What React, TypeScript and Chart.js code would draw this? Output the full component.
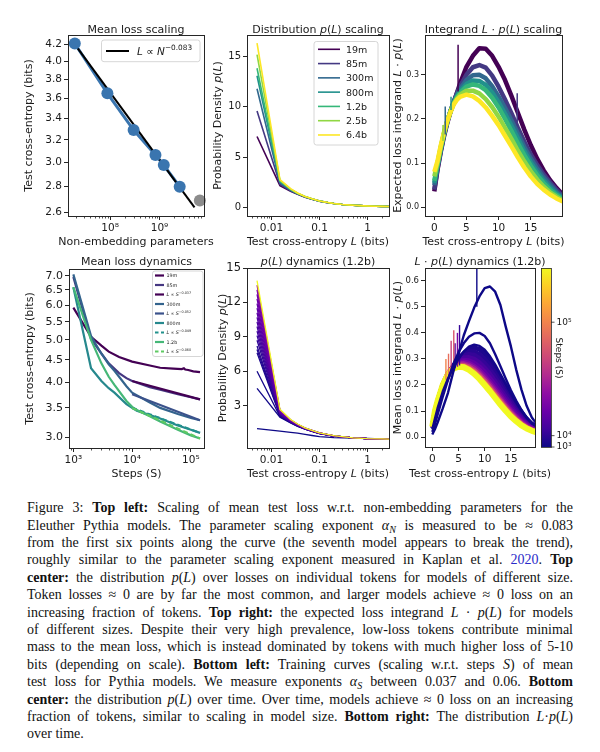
import React, { useEffect, useLayoutEffect, useRef } from 'react';
import { Chart, registerables } from 'chart.js';

Chart.register(...registerables);

const FONT = 'DejaVu Sans';
const INK = '#262626';
const TXT = '#1a1a1a';

/* ---------------- Top left: mean loss scaling ---------------- */
const modelNames = ['19m', '85m', '300m', '800m', '1.2b', '2.5b', '6.4b'];
const nonEmbeddingParams = [1.93e7, 8.81e7, 2.99e8, 8.28e8, 1.22e9, 2.56e9, 6.55e9];
const meanTestLoss = [4.21, 3.653, 3.29, 3.064, 2.978, 2.8, 2.692];
const fitParams = [1.93e7, 5.1e9];
const fitParamLoss = [4.2, 2.64];
const paramTicks = [1e8, 1e9];
const paramMinorTicks = [2e7, 3e7, 4e7, 5e7, 6e7, 7e7, 8e7, 9e7, 2e8, 3e8, 4e8, 5e8, 6e8, 7e8, 8e8, 9e8, 2e9, 3e9, 4e9, 5e9, 6e9, 7e9];
const meanLossTicks = [2.6, 2.8, 3.0, 3.2, 3.4, 3.6, 3.8, 4.0, 4.2];

/* ---------------- Top center: p(L) by model size ---------------- */
const densityL = [0.005, 0.015, 0.025, 0.035, 0.05, 0.07, 0.1, 0.15, 0.2, 0.3, 0.5, 0.7, 1, 1.5, 2, 3];
const density19m = [7.05, 2.15, 1.6, 1.3, 1.0, 0.8, 0.6, 0.45, 0.37, 0.28, 0.2, 0.16, 0.13, 0.1, 0.09, 0.08];
const density85m = [9.6, 2.3, 1.65, 1.32, 1.02, 0.81, 0.61, 0.46, 0.37, 0.28, 0.2, 0.16, 0.13, 0.1, 0.09, 0.08];
const density300m = [11.8, 2.45, 1.7, 1.35, 1.04, 0.82, 0.61, 0.46, 0.38, 0.28, 0.2, 0.16, 0.13, 0.1, 0.09, 0.08];
const density800m = [13.1, 2.55, 1.75, 1.37, 1.05, 0.83, 0.62, 0.47, 0.38, 0.28, 0.2, 0.16, 0.13, 0.1, 0.09, 0.08];
const density1200m = [13.85, 2.6, 1.78, 1.38, 1.06, 0.83, 0.62, 0.47, 0.38, 0.28, 0.2, 0.16, 0.13, 0.1, 0.09, 0.08];
const density2500m = [15.2, 2.68, 1.8, 1.4, 1.07, 0.84, 0.63, 0.47, 0.38, 0.28, 0.2, 0.16, 0.13, 0.1, 0.09, 0.08];
const density6400m = [16.35, 2.75, 1.85, 1.42, 1.08, 0.85, 0.63, 0.48, 0.38, 0.28, 0.2, 0.16, 0.13, 0.1, 0.09, 0.08];
const densityTicksX = [0.01, 0.1, 1];
const densityMinorX = [0.004, 0.005, 0.006, 0.007, 0.008, 0.009, 0.02, 0.03, 0.04, 0.05, 0.06, 0.07, 0.08, 0.09, 0.2, 0.3, 0.4, 0.5, 0.6, 0.7, 0.8, 0.9, 2];
const densityTicksY = [0, 5, 10, 15];

/* ---------------- Top right: L*p(L) by model size ---------------- */
const integrandL = [0, 0.5, 1, 1.5, 2, 2.5, 3, 3.5, 4, 5, 6, 7, 8, 9, 10, 11, 12, 13, 14, 15, 16, 17, 18, 19, 20];
const integrand19m = [0.036, 0.085, 0.125, 0.16, 0.19, 0.215, 0.237, 0.258, 0.28, 0.318, 0.343, 0.36, 0.359, 0.343, 0.318, 0.288, 0.252, 0.214, 0.176, 0.141, 0.11, 0.084, 0.062, 0.044, 0.029];
const integrand85m = [0.04, 0.088, 0.128, 0.163, 0.192, 0.217, 0.238, 0.257, 0.274, 0.3, 0.317, 0.322, 0.316, 0.298, 0.273, 0.244, 0.213, 0.18, 0.149, 0.12, 0.096, 0.075, 0.057, 0.04, 0.025];
const integrand300m = [0.05, 0.092, 0.13, 0.165, 0.193, 0.217, 0.237, 0.254, 0.268, 0.288, 0.299, 0.3, 0.292, 0.274, 0.251, 0.225, 0.197, 0.167, 0.137, 0.111, 0.088, 0.068, 0.051, 0.035, 0.022];
const integrand800m = [0.055, 0.095, 0.132, 0.166, 0.194, 0.217, 0.236, 0.251, 0.263, 0.279, 0.287, 0.286, 0.277, 0.26, 0.238, 0.212, 0.185, 0.156, 0.127, 0.102, 0.08, 0.061, 0.045, 0.031, 0.02];
const integrand1200m = [0.06, 0.098, 0.134, 0.167, 0.194, 0.216, 0.235, 0.249, 0.259, 0.273, 0.278, 0.275, 0.265, 0.248, 0.226, 0.2, 0.173, 0.145, 0.118, 0.094, 0.073, 0.055, 0.04, 0.028, 0.018];
const integrand2500m = [0.07, 0.1, 0.137, 0.168, 0.195, 0.216, 0.234, 0.246, 0.255, 0.264, 0.264, 0.258, 0.245, 0.227, 0.205, 0.18, 0.155, 0.128, 0.104, 0.082, 0.063, 0.047, 0.034, 0.024, 0.015];
const integrand6400m = [0.08, 0.105, 0.14, 0.17, 0.195, 0.215, 0.232, 0.243, 0.25, 0.255, 0.251, 0.241, 0.226, 0.207, 0.186, 0.162, 0.138, 0.113, 0.09, 0.07, 0.053, 0.04, 0.029, 0.02, 0.013];
const integrandSpikeL = [3.7, 12.9, 1.7, 1.35, 2.6];
const integrandSpikeBase = [0.262, 0.185, 0.165, 0.15, 0.22];
const integrandSpikeTop = [0.368, 0.258, 0.228, 0.186, 0.25];
const integrandSpikeModel = [0, 1, 2, 5, 3];
const integrandTicksX = [0, 5, 10, 15];
const integrandTicksY = [0, 0.1, 0.2, 0.3];

/* ---------------- Bottom left: mean loss dynamics ---------------- */
const steps19m = [1000, 2000, 3000, 4000, 6000, 10000, 20000, 30000, 50000, 70000, 76000, 80000, 90000, 110000, 143000];
const loss19m = [5.92, 5.08, 4.85, 4.7, 4.57, 4.46, 4.37, 4.32, 4.3, 4.29, 4.31, 4.28, 4.27, 4.24, 4.22];
const steps85m = [1000, 2000, 3000, 4000, 6000, 8000, 10000, 20000, 30000, 60000, 100000, 143000];
const loss85m = [6.95, 5.02, 4.66, 4.42, 4.2, 4.09, 4.03, 3.9, 3.85, 3.76, 3.7, 3.66];
const steps300m = [1000, 2000, 3000, 4000, 5000, 6000, 8000, 10000, 20000, 30000, 60000, 100000, 143000];
const loss300m = [7.05, 5.1, 4.65, 4.4, 4.25, 4.12, 3.92, 3.79, 3.6, 3.5, 3.39, 3.32, 3.28];
const steps800m = [1000, 2000, 3000, 4000, 5000, 8000, 10000, 12000, 20000, 30000, 60000, 100000, 143000];
const loss800m = [6.59, 4.31, 4.03, 3.88, 3.79, 3.57, 3.5, 3.45, 3.37, 3.31, 3.19, 3.12, 3.07];
const steps1200m = [1000, 1500, 2000, 3000, 4000, 5000, 8000, 10000, 12000, 20000, 30000, 60000, 100000, 143000];
const loss1200m = [6.59, 5.6, 5.0, 4.42, 4.12, 3.95, 3.63, 3.52, 3.46, 3.35, 3.26, 3.12, 3.03, 2.98];
const fitSteps = [10000, 143000];
const fitLoss85m = [4.03, 3.66];
const fitLoss300m = [3.76, 3.28];
const fitLoss800m = [3.5, 3.07];
const fitLoss1200m = [3.5, 2.98];
const stepTicks = [1e3, 1e4, 1e5];
const stepMinorTicks = [900, 2000, 3000, 4000, 5000, 6000, 7000, 8000, 9000, 20000, 30000, 40000, 50000, 60000, 70000, 80000, 90000];
const dynLossTicks = [3.0, 3.5, 4.0, 4.5, 5.0, 5.5, 6.0, 6.5, 7.0];

/* ---------------- Bottom center: p(L) over training (1.2b) ---------------- */
const dynDensityL = [0.005, 0.015, 0.025, 0.035, 0.05, 0.07, 0.1, 0.2, 0.5, 1, 2, 3];
const dynDensitySteps = [1000, 2000, 3000, 5000, 6000, 8000, 10000, 13000, 15000, 17000, 19000, 21000, 23000, 25000, 27000, 29000, 31000, 35000, 50000, 143000];
const dynDensityRows = [
  [1.0, 0.78, 0.68, 0.6, 0.5, 0.4, 0.3, 0.22, 0.17, 0.14, 0.11, 0.1],
  [4.5, 2.0, 1.5, 1.2, 0.95, 0.75, 0.57, 0.34, 0.19, 0.13, 0.1, 0.09],
  [6.0, 2.05, 1.52, 1.22, 0.96, 0.76, 0.57, 0.34, 0.19, 0.13, 0.1, 0.09],
  [7.6, 2.12, 1.55, 1.24, 0.97, 0.77, 0.58, 0.35, 0.19, 0.13, 0.1, 0.09],
  [7.9, 2.15, 1.56, 1.25, 0.97, 0.77, 0.58, 0.35, 0.19, 0.13, 0.1, 0.09],
  [8.2, 2.18, 1.57, 1.25, 0.98, 0.78, 0.58, 0.35, 0.19, 0.13, 0.1, 0.09],
  [8.7, 2.22, 1.58, 1.26, 0.98, 0.78, 0.59, 0.35, 0.19, 0.13, 0.1, 0.09],
  [9.1, 2.26, 1.6, 1.27, 0.99, 0.79, 0.59, 0.35, 0.19, 0.13, 0.1, 0.09],
  [9.5, 2.3, 1.61, 1.28, 0.99, 0.79, 0.59, 0.36, 0.2, 0.13, 0.1, 0.09],
  [9.9, 2.33, 1.63, 1.29, 1.0, 0.8, 0.6, 0.36, 0.2, 0.13, 0.1, 0.09],
  [10.3, 2.36, 1.64, 1.3, 1.0, 0.8, 0.6, 0.36, 0.2, 0.13, 0.1, 0.09],
  [10.7, 2.4, 1.66, 1.31, 1.01, 0.81, 0.6, 0.36, 0.2, 0.13, 0.1, 0.09],
  [11.1, 2.43, 1.67, 1.32, 1.01, 0.81, 0.61, 0.36, 0.2, 0.13, 0.1, 0.09],
  [11.5, 2.46, 1.69, 1.33, 1.02, 0.82, 0.61, 0.37, 0.2, 0.13, 0.1, 0.09],
  [11.9, 2.49, 1.7, 1.34, 1.02, 0.82, 0.61, 0.37, 0.2, 0.13, 0.1, 0.09],
  [12.3, 2.52, 1.72, 1.35, 1.03, 0.83, 0.62, 0.37, 0.2, 0.13, 0.1, 0.09],
  [12.7, 2.55, 1.73, 1.36, 1.04, 0.83, 0.62, 0.37, 0.2, 0.13, 0.1, 0.09],
  [13.1, 2.58, 1.75, 1.37, 1.04, 0.84, 0.62, 0.37, 0.2, 0.13, 0.1, 0.09],
  [13.5, 2.62, 1.77, 1.38, 1.05, 0.84, 0.63, 0.37, 0.2, 0.13, 0.1, 0.09],
  [13.9, 2.68, 1.8, 1.4, 1.06, 0.85, 0.63, 0.38, 0.2, 0.13, 0.1, 0.09],
];
const dynDensityTicksY = [3, 6, 9, 12, 15];

/* ---------------- Bottom right: L*p(L) over training (1.2b) ---------------- */
const dynIntegrandL = [0, 0.5, 1, 2, 3, 4, 5, 6, 7, 8, 9, 10, 11, 12, 13, 14, 15, 16, 17, 18, 19, 20];
const dynIntegrandSteps = [1000, 2000, 3000, 5000, 8000, 12000, 18000, 26000, 36000, 50000, 70000, 90000, 115000, 143000];
const dynIntegrandRows = [
  [0.01, 0.03, 0.055, 0.11, 0.17, 0.25, 0.32, 0.39, 0.445, 0.497, 0.54, 0.572, 0.578, 0.558, 0.507, 0.425, 0.348, 0.26, 0.183, 0.12, 0.075, 0.048],
  [0.02, 0.05, 0.085, 0.155, 0.22, 0.28, 0.325, 0.36, 0.385, 0.398, 0.4, 0.388, 0.36, 0.318, 0.272, 0.225, 0.18, 0.14, 0.105, 0.075, 0.052, 0.04],
  [0.03, 0.07, 0.11, 0.175, 0.225, 0.265, 0.3, 0.328, 0.347, 0.355, 0.35, 0.335, 0.31, 0.278, 0.242, 0.205, 0.168, 0.133, 0.102, 0.076, 0.055, 0.042],
  [0.035, 0.08, 0.12, 0.185, 0.233, 0.27, 0.3, 0.322, 0.338, 0.343, 0.337, 0.32, 0.295, 0.263, 0.228, 0.192, 0.157, 0.124, 0.095, 0.07, 0.05, 0.038],
  [0.038, 0.085, 0.125, 0.19, 0.237, 0.272, 0.3, 0.318, 0.328, 0.328, 0.318, 0.3, 0.275, 0.245, 0.212, 0.178, 0.145, 0.114, 0.087, 0.064, 0.046, 0.035],
  [0.04, 0.09, 0.13, 0.195, 0.24, 0.272, 0.297, 0.313, 0.318, 0.315, 0.303, 0.284, 0.259, 0.23, 0.198, 0.166, 0.135, 0.106, 0.08, 0.059, 0.042, 0.032],
  [0.04, 0.092, 0.133, 0.198, 0.242, 0.272, 0.293, 0.305, 0.306, 0.3, 0.286, 0.266, 0.242, 0.214, 0.184, 0.154, 0.125, 0.098, 0.074, 0.054, 0.039, 0.029],
  [0.04, 0.095, 0.135, 0.2, 0.244, 0.272, 0.29, 0.296, 0.294, 0.285, 0.27, 0.25, 0.226, 0.199, 0.17, 0.142, 0.115, 0.09, 0.068, 0.05, 0.036, 0.027],
  [0.04, 0.097, 0.137, 0.202, 0.245, 0.271, 0.286, 0.289, 0.284, 0.273, 0.257, 0.236, 0.212, 0.186, 0.158, 0.131, 0.105, 0.082, 0.062, 0.046, 0.033, 0.025],
  [0.04, 0.1, 0.138, 0.203, 0.246, 0.27, 0.282, 0.283, 0.277, 0.265, 0.248, 0.226, 0.202, 0.176, 0.149, 0.123, 0.098, 0.076, 0.057, 0.042, 0.03, 0.023],
  [0.04, 0.1, 0.138, 0.203, 0.246, 0.268, 0.278, 0.277, 0.27, 0.257, 0.239, 0.217, 0.193, 0.167, 0.141, 0.116, 0.092, 0.071, 0.053, 0.039, 0.028, 0.021],
  [0.04, 0.1, 0.138, 0.203, 0.245, 0.267, 0.275, 0.273, 0.265, 0.251, 0.232, 0.21, 0.186, 0.16, 0.135, 0.11, 0.087, 0.067, 0.05, 0.037, 0.026, 0.02],
  [0.04, 0.1, 0.138, 0.202, 0.244, 0.265, 0.272, 0.27, 0.261, 0.246, 0.227, 0.205, 0.181, 0.155, 0.13, 0.106, 0.083, 0.064, 0.048, 0.035, 0.025, 0.019],
  [0.04, 0.1, 0.138, 0.2, 0.242, 0.263, 0.27, 0.268, 0.258, 0.243, 0.223, 0.2, 0.176, 0.15, 0.125, 0.101, 0.079, 0.061, 0.045, 0.033, 0.024, 0.018],
];
const dynSpikeL = [8.5, 3.1, 3.6, 4.1, 4.35, 4.8, 5.2, 2.6];
const dynSpikeBase = [0.5, 0.235, 0.25, 0.26, 0.265, 0.27, 0.275, 0.22];
const dynSpikeTop = [0.7, 0.32, 0.37, 0.41, 0.36, 0.4, 0.43, 0.3];
const dynSpikeStep = [1000, 90000, 70000, 80000, 20000, 36000, 12000, 100000];
const dynIntegrandTicksY = [0, 0.1, 0.2, 0.3, 0.4, 0.5, 0.6];
const colorbarTicks = [1e3, 1e4, 1e5];
const colorbarMin = 1000;
const colorbarMax = 143000;

/* ---------------- colours ---------------- */
const VIRIDIS7 = ['#440154', '#443983', '#31688e', '#21918c', '#35b779', '#90d743', '#fde725'];
const PLASMA = ['#0d0887', '#41049d', '#6a00a8', '#8f0da4', '#b12a90', '#cc4778', '#e16462', '#f2844b', '#fca636', '#fcce25', '#f0f921'];
const BLUE = '#3a75af';
const DYN_COLORS = { m19: '#440154', m85: '#453781', m300: '#33638d', m800: '#26888d', m1200: '#45b777', f85: '#440154', f300: '#3b528b', f800: '#21918c', f1200: '#5ec962' };

function hex(c: string) { return [1, 3, 5].map((i) => parseInt(c.slice(i, i + 2), 16)); }
function plasma(t: number) {
  const u = Math.max(0, Math.min(1, t)) * (PLASMA.length - 1);
  const i = Math.min(PLASMA.length - 2, Math.floor(u));
  const f = u - i;
  const a = hex(PLASMA[i]);
  const b = hex(PLASMA[i + 1]);
  const c = a.map((v, k) => Math.round(v + (b[k] - v) * f));
  return `rgb(${c[0]},${c[1]},${c[2]})`;
}
function stepColor(s: number) { return plasma((s - colorbarMin) / (colorbarMax - colorbarMin)); }

/* ---------------- helpers ---------------- */
type Seg = { t: string; it?: boolean; sup?: boolean };
const SUP: Record<string, string> = { '0': '⁰', '1': '¹', '2': '²', '3': '³', '4': '⁴', '5': '⁵', '6': '⁶', '7': '⁷', '8': '⁸', '9': '⁹', '-': '⁻' };
function pow10(v: number) { const e = Math.round(Math.log10(v)); return '10' + String(e).split('').map((c) => SUP[c]).join(''); }

function drawRich(ctx: CanvasRenderingContext2D, segs: Seg[], x: number, y: number, size: number, o: { align?: string; rotate?: number; color?: string } = {}) {
  ctx.save();
  ctx.translate(x, y);
  if (o.rotate) ctx.rotate(o.rotate);
  ctx.textBaseline = 'alphabetic';
  ctx.textAlign = 'left';
  ctx.fillStyle = o.color || TXT;
  const fonts = segs.map((s) => `${s.it ? 'italic ' : ''}${s.sup ? size * 0.7 : size}px "${FONT}"`);
  const widths = segs.map((s, i) => { ctx.font = fonts[i]; return ctx.measureText(s.t).width; });
  const total = widths.reduce((a, b) => a + b, 0);
  let cx = o.align === 'left' ? 0 : -total / 2;
  const base = size * 0.36;
  segs.forEach((s, i) => {
    ctx.font = fonts[i];
    ctx.fillText(s.t, cx, base + (s.sup ? -size * 0.42 : 0));
    cx += widths[i];
  });
  ctx.restore();
}

function roundBox(ctx: CanvasRenderingContext2D, x0: number, y0: number, x1: number, y1: number) {
  ctx.save();
  ctx.beginPath();
  ctx.roundRect(x0, y0, x1 - x0, y1 - y0, 2.5);
  ctx.fillStyle = 'rgba(255,255,255,0.85)';
  ctx.fill();
  ctx.strokeStyle = '#cccccc';
  ctx.lineWidth = 0.8;
  ctx.stroke();
  ctx.restore();
}

function pts(xs: number[], ys: number[]) { return xs.map((x, i) => ({ x, y: ys[i] })); }
function lineDS(xs: number[], ys: number[], color: string, width: number, extra: any = {}) {
  return { data: pts(xs, ys), borderColor: color, backgroundColor: color, borderWidth: width, pointRadius: 0, tension: 0, fill: false, clip: 0, ...extra };
}

function axis(pos: string, type: string, min: number, max: number, majors: number[], fmt: (v: number) => string, size: number, thick: number) {
  return {
    type, min, max, bounds: 'data', position: pos === 'x' ? 'bottom' : 'left',
    afterBuildTicks: (s: any) => { s.ticks = majors.map((v) => ({ value: v })); },
    afterFit: (s: any) => { if (pos === 'x') s.height = thick; else s.width = thick; },
    ticks: { callback: (v: any) => fmt(Number(v)), autoSkip: false, maxRotation: 0, minRotation: 0, padding: 2, color: TXT, font: { family: FONT, size } },
    grid: { drawOnChartArea: false, drawTicks: true, tickLength: 4, tickWidth: 1, color: INK, lineWidth: 1 },
    border: { display: false },
  };
}

function options(padR: number, padT: number, x: any, y: any) {
  return {
    responsive: false, animation: false, events: [],
    layout: { padding: { left: 0, right: padR, top: padT, bottom: 0 } },
    plugins: { legend: { display: false }, tooltip: { enabled: false }, title: { display: false } },
    scales: { x, y },
  };
}

interface Deco {
  ox: number; oy: number;
  title: Seg[]; titleY: number;
  xLabel: Seg[]; xLabelY: number;
  yLabel: Seg[]; yLabelX: number;
  minorX?: number[];
  extra?: (ctx: CanvasRenderingContext2D, chart: any, ox: number, oy: number) => void;
}
function deco(d: Deco) {
  return {
    id: 'deco',
    afterDraw(chart: any) {
      const ctx: CanvasRenderingContext2D = chart.ctx;
      const a = chart.chartArea;
      ctx.save();
      ctx.strokeStyle = INK;
      ctx.lineWidth = 0.8;
      const xs = chart.scales.x;
      (d.minorX || []).forEach((v) => {
        const px = Math.round(xs.getPixelForValue(v)) + 0.5;
        ctx.beginPath();
        ctx.moveTo(px, a.bottom);
        ctx.lineTo(px, a.bottom + 2.5);
        ctx.stroke();
      });
      ctx.lineWidth = 1;
      ctx.strokeRect(Math.round(a.left) + 0.5, Math.round(a.top) + 0.5, Math.round(a.right - a.left), Math.round(a.bottom - a.top));
      const cx = (a.left + a.right) / 2;
      const cy = (a.top + a.bottom) / 2;
      drawRich(ctx, d.title, cx, d.titleY - d.oy, 11);
      drawRich(ctx, d.xLabel, cx, d.xLabelY - d.oy, 11);
      drawRich(ctx, d.yLabel, d.yLabelX - d.ox, cy, 11, { rotate: -Math.PI / 2 });
      if (d.extra) d.extra(ctx, chart, d.ox, d.oy);
      ctx.restore();
    },
  };
}

const LBITS: Seg[] = [{ t: 'Test cross-entropy ' }, { t: 'L', it: true }, { t: ' (bits)' }];
const PL: Seg[] = [{ t: 'p', it: true }, { t: '(' }, { t: 'L', it: true }, { t: ')' }];
const LPL: Seg[] = [{ t: 'L', it: true }, { t: ' · ' }, ...PL];

/* ---------------- panel builders ---------------- */
function makeP1() {
  const ox = 0, oy = 0;
  const legend = (ctx: CanvasRenderingContext2D) => {
    roundBox(ctx, 101.5 - ox, 40 - oy, 200 - ox, 61.7 - oy);
    ctx.strokeStyle = '#000';
    ctx.lineWidth = 2;
    ctx.beginPath();
    ctx.moveTo(106 - ox, 51 - oy);
    ctx.lineTo(129 - ox, 51 - oy);
    ctx.stroke();
    drawRich(ctx, [{ t: 'L', it: true }, { t: ' ∝ ' }, { t: 'N', it: true }, { t: '−0.083', sup: true }], 137 - ox, 51 - oy, 10.5, { align: 'left' });
  };
  return {
    type: 'line',
    data: {
      datasets: [
        { data: pts(nonEmbeddingParams.slice(0, 6), meanTestLoss.slice(0, 6)), showLine: false, pointRadius: 6, pointBorderWidth: 0, pointBackgroundColor: BLUE, borderColor: BLUE, clip: 10 },
        { data: pts(nonEmbeddingParams.slice(6), meanTestLoss.slice(6)), showLine: false, pointRadius: 6, pointBorderWidth: 0, pointBackgroundColor: '#8c8c8c', borderColor: '#8c8c8c', clip: 10 },
        lineDS(fitParams, fitParamLoss, '#000000', 2),
        lineDS(nonEmbeddingParams.slice(0, 6), meanTestLoss.slice(0, 6), BLUE, 3),
      ],
    },
    options: options(21, 35,
      axis('x', 'logarithmic', Math.pow(10, 7.148), Math.pow(10, 9.9), paramTicks, pow10, 10.5, 34),
      axis('y', 'logarithmic', 2.576, 4.313, meanLossTicks, (v) => v.toFixed(1), 10.5, 68)),
    plugins: [deco({ ox, oy, title: [{ t: 'Mean loss scaling' }], titleY: 29, xLabel: [{ t: 'Non-embedding parameters' }], xLabelY: 241, yLabel: [{ t: 'Test cross-entropy (bits)' }], yLabelX: 28, minorX: paramMinorTicks, extra: legend })],
  };
}

function makeP2() {
  const ox = 195, oy = 0;
  const series = [density19m, density85m, density300m, density800m, density1200m, density2500m, density6400m];
  const legend = (ctx: CanvasRenderingContext2D) => {
    roundBox(ctx, 314 - ox, 41.5 - oy, 378 - ox, 145 - oy);
    modelNames.forEach((name, i) => {
      const y = 49.3 + i * 14.28 - oy;
      ctx.strokeStyle = VIRIDIS7[i];
      ctx.lineWidth = 1.6;
      ctx.beginPath();
      ctx.moveTo(318 - ox, y);
      ctx.lineTo(340 - ox, y);
      ctx.stroke();
      drawRich(ctx, [{ t: name }], 346 - ox, y, 9.5, { align: 'left' });
    });
  };
  return {
    type: 'line',
    data: { datasets: series.map((s, i) => lineDS(densityL, s, VIRIDIS7[i], 1.6)).reverse() },
    options: options(6, 35,
      axis('x', 'logarithmic', Math.pow(10, -2.51), Math.pow(10, 0.448), densityTicksX, (v) => String(v), 10.5, 34),
      axis('y', 'linear', -0.87, 17.16, densityTicksY, (v) => String(v), 10, 52)),
    plugins: [deco({ ox, oy, title: [{ t: 'Distribution ' }, ...PL, { t: ' scaling' }], titleY: 29, xLabel: LBITS, xLabelY: 241, yLabel: [{ t: 'Probability Density ' }, ...PL], yLabelX: 217, minorX: densityMinorX, extra: legend })],
  };
}

function makeP3() {
  const ox = 390, oy = 0;
  const series = [integrand19m, integrand85m, integrand300m, integrand800m, integrand1200m, integrand2500m, integrand6400m];
  const spikes = integrandSpikeL.map((L, i) => lineDS([L, L], [integrandSpikeBase[i], integrandSpikeTop[i]], VIRIDIS7[integrandSpikeModel[i]], 1.5));
  const curves = series.map((s, i) => lineDS(integrandL, s, VIRIDIS7[i], 4.5, { borderJoinStyle: 'round' })).reverse();
  return {
    type: 'line',
    data: { datasets: [...spikes, ...curves] },
    options: options(38, 35,
      axis('x', 'linear', -1.45, 19.87, integrandTicksX, (v) => String(v), 10.5, 34),
      axis('y', 'linear', -0.0197, 0.39, integrandTicksY, (v) => v.toFixed(1), 8, 35)),
    plugins: [deco({ ox, oy, title: [{ t: 'Integrand ' }, ...LPL, { t: ' scaling' }], titleY: 29, xLabel: LBITS, xLabelY: 241, yLabel: [{ t: 'Expected loss integrand ' }, ...LPL], yLabelX: 397 })],
  };
}

function makeP4() {
  const ox = 0, oy = 250;
  const C = DYN_COLORS;
  const entries: { label: Seg[]; color: string; dash: number[] }[] = [
    { label: [{ t: '19m' }], color: C.m19, dash: [] },
    { label: [{ t: '85m' }], color: C.m85, dash: [] },
    { label: [{ t: 'L', it: true }, { t: ' ∝ ' }, { t: 'S', it: true }, { t: '−0.037', sup: true }], color: C.f85, dash: [] },
    { label: [{ t: '300m' }], color: C.m300, dash: [] },
    { label: [{ t: 'L', it: true }, { t: ' ∝ ' }, { t: 'S', it: true }, { t: '−0.052', sup: true }], color: C.f300, dash: [] },
    { label: [{ t: '800m' }], color: C.m800, dash: [] },
    { label: [{ t: 'L', it: true }, { t: ' ∝ ' }, { t: 'S', it: true }, { t: '−0.049', sup: true }], color: C.f800, dash: [3.5, 2.5] },
    { label: [{ t: '1.2b' }], color: C.m1200, dash: [] },
    { label: [{ t: 'L', it: true }, { t: ' ∝ ' }, { t: 'S', it: true }, { t: '−0.060', sup: true }], color: C.f1200, dash: [3.5, 2.5] },
  ];
  const legend = (ctx: CanvasRenderingContext2D) => {
    roundBox(ctx, 152.5 - ox, 271 - oy, 203 - ox, 356.5 - oy);
    entries.forEach((e, i) => {
      const y = 275.5 + i * 9.5 - oy;
      ctx.save();
      ctx.strokeStyle = e.color;
      ctx.lineWidth = 2.2;
      ctx.setLineDash(e.dash);
      ctx.beginPath();
      ctx.moveTo(155 - ox, y);
      ctx.lineTo(164 - ox, y);
      ctx.stroke();
      ctx.restore();
      drawRich(ctx, e.label, 166.5 - ox, y, 4.8, { align: 'left' });
    });
  };
  return {
    type: 'line',
    data: {
      datasets: [
        lineDS(fitSteps, fitLoss1200m, C.f1200, 2.2, { borderDash: [5, 3] }),
        lineDS(fitSteps, fitLoss800m, C.f800, 2.2, { borderDash: [5, 3] }),
        lineDS(fitSteps, fitLoss300m, C.f300, 2.2),
        lineDS(fitSteps, fitLoss85m, C.f85, 2.2),
        lineDS(steps1200m, loss1200m, C.m1200, 2.2),
        lineDS(steps800m, loss800m, C.m800, 2.2),
        lineDS(steps300m, loss300m, C.m300, 2.2),
        lineDS(steps85m, loss85m, C.m85, 2.2),
        lineDS(steps19m, loss19m, C.m19, 2.2),
      ],
    },
    options: options(21, 19,
      axis('x', 'logarithmic', Math.pow(10, 2.926), Math.pow(10, 5.223), stepTicks, pow10, 10.5, 42),
      axis('y', 'logarithmic', 2.836, 7.25, dynLossTicks, (v) => v.toFixed(1), 11, 69)),
    plugins: [deco({ ox, oy, title: [{ t: 'Mean loss dynamics' }], titleY: 261, xLabel: [{ t: 'Steps (S)' }], xLabelY: 473, yLabel: [{ t: 'Test cross-entropy (bits)' }], yLabelX: 29, minorX: stepMinorTicks, extra: legend })],
  };
}

function makeP5() {
  const ox = 195, oy = 250;
  const curves = dynDensityRows.map((row, i) => lineDS(dynDensityL, row, stepColor(dynDensitySteps[i]), 1.3)).reverse();
  return {
    type: 'line',
    data: { datasets: curves },
    options: options(6, 18,
      axis('x', 'logarithmic', Math.pow(10, -2.51), Math.pow(10, 0.448), densityTicksX, (v) => String(v), 10.5, 42),
      axis('y', 'linear', -0.69, 15, dynDensityTicksY, (v) => String(v), 11.5, 52)),
    plugins: [deco({ ox, oy, title: [...PL, { t: ' dynamics (1.2b)' }], titleY: 261, xLabel: LBITS, xLabelY: 473, yLabel: [{ t: 'Probability Density ' }, ...PL], yLabelX: 222, minorX: densityMinorX })],
  };
}

function makeP6() {
  const ox = 390, oy = 250;
  const cb = { l: 541, r: 551, t: 268, b: 447 };
  const colorbar = (ctx: CanvasRenderingContext2D) => {
    const g = ctx.createLinearGradient(0, cb.b - oy, 0, cb.t - oy);
    PLASMA.forEach((c, i) => g.addColorStop(i / (PLASMA.length - 1), c));
    ctx.fillStyle = g;
    ctx.fillRect(cb.l - ox, cb.t - oy, cb.r - cb.l, cb.b - cb.t);
    ctx.strokeStyle = INK;
    ctx.lineWidth = 0.8;
    ctx.strokeRect(cb.l - ox + 0.5, cb.t - oy + 0.5, cb.r - cb.l, cb.b - cb.t);
    colorbarTicks.forEach((v) => {
      const y = cb.b - ((v - colorbarMin) / (colorbarMax - colorbarMin)) * (cb.b - cb.t) - oy;
      ctx.beginPath();
      ctx.moveTo(cb.r - ox, y);
      ctx.lineTo(cb.r - ox + 3.5, y);
      ctx.stroke();
      ctx.font = `9px "${FONT}"`;
      ctx.fillStyle = TXT;
      ctx.textAlign = 'left';
      ctx.textBaseline = 'middle';
      ctx.fillText(pow10(v), cb.r - ox + 5.5, y);
    });
    drawRich(ctx, [{ t: 'Steps (S)' }], 559 - ox, 358 - oy, 9, { rotate: Math.PI / 2 });
  };
  const spikes = dynSpikeL.map((L, i) => lineDS([L, L], [dynSpikeBase[i], dynSpikeTop[i]], stepColor(dynSpikeStep[i]), 1.4));
  const curves = dynIntegrandRows.map((row, i) => {
    const last = i === dynIntegrandRows.length - 1;
    return lineDS(dynIntegrandL, row, stepColor(dynIntegrandSteps[i]), last ? 6 : i < 3 ? 2.4 : 4.6, { borderJoinStyle: 'round' });
  });
  return {
    type: 'line',
    data: { datasets: [...curves.slice(0, 3), ...spikes, ...curves.slice(3).reverse()] },
    options: options(65, 18,
      axis('x', 'linear', -1.39, 19.6, integrandTicksX, (v) => String(v), 10.5, 43),
      axis('y', 'linear', -0.038, 0.649, dynIntegrandTicksY, (v) => v.toFixed(1), 8.5, 35)),
    plugins: [deco({ ox, oy, title: [...LPL, { t: ' dynamics (1.2b)' }], titleY: 261, xLabel: LBITS, xLabelY: 473, yLabel: [{ t: 'Mean loss integrand ' }, ...LPL], yLabelX: 397, extra: colorbar })],
  };
}

function Panel({ left, top, width, height, make }: { left: number; top: number; width: number; height: number; make: () => any }) {
  const ref = useRef<HTMLCanvasElement>(null);
  useEffect(() => {
    const chart = new Chart(ref.current as HTMLCanvasElement, make());
    return () => chart.destroy();
  }, []);
  return <canvas ref={ref} width={width} height={height} style={{ position: 'absolute', left, top, width, height }} />;
}

/* ---------------- caption ---------------- */
const LINK = '#2a2ac8';
const CAPTION_LEFT = 27;
const CAPTION_W = 546;
const Sub = ({ children }: { children: any }) => <span style={{ fontSize: '0.72em', position: 'relative', top: '0.3em' }}>{children}</span>;
const pLx = <><i>p</i>(<i>L</i>)</>;
const captionLines = [
  <>Figure 3: <b>Top left:</b> Scaling of mean test loss w.r.t. non-embedding parameters for the</>,
  <>Eleuther Pythia models. The parameter scaling exponent <i>α</i><Sub><i>N</i></Sub> is measured to be ≈ 0.083</>,
  <>from the first six points along the curve (the seventh model appears to break the trend),</>,
  <>roughly similar to the parameter scaling exponent measured in Kaplan et al. <span style={{ color: LINK }}>2020</span>. <b>Top</b></>,
  <><b>center:</b> the distribution {pLx} over losses on individual tokens for models of different size.</>,
  <>Token losses ≈ 0 are by far the most common, and larger models achieve ≈ 0 loss on an</>,
  <>increasing fraction of tokens. <b>Top right:</b> the expected loss integrand <i>L</i> · {pLx} for models</>,
  <>of different sizes. Despite their very high prevalence, low-loss tokens contribute minimal</>,
  <>mass to the mean loss, which is instead dominated by tokens with much higher loss of 5-10</>,
  <>bits (depending on scale). <b>Bottom left:</b> Training curves (scaling w.r.t. steps <i>S</i>) of mean</>,
  <>test loss for Pythia models. We measure exponents <i>α</i><Sub><i>S</i></Sub> between 0.037 and 0.06. <b>Bottom</b></>,
  <><b>center:</b> the distribution {pLx} over time. Over time, models achieve ≈ 0 loss on an increasing</>,
  <>fraction of tokens, similar to scaling in model size. <b>Bottom right:</b> The distribution <i>L</i>·{pLx}</>,
  <>over time.</>,
];

function Caption() {
  const refs = useRef<(HTMLSpanElement | null)[]>([]);
  useLayoutEffect(() => {
    const fit = () => {
      refs.current.forEach((el, i) => {
        if (!el || i === captionLines.length - 1) return;
        el.style.wordSpacing = '0px';
        const w = el.getBoundingClientRect().width;
        const n = (el.textContent || '').split(' ').length - 1;
        if (n > 0) el.style.wordSpacing = `${(CAPTION_W - w) / n}px`;
      });
    };
    fit();
    if ((document as any).fonts && (document as any).fonts.ready) (document as any).fonts.ready.then(fit);
  }, []);
  return (
    <div style={{ position: 'absolute', left: CAPTION_LEFT, top: 499.3, width: CAPTION_W, fontFamily: '"Liberation Serif", serif', fontSize: 14, color: '#111' }}>
      {captionLines.map((ln, i) => (
        <div key={i} style={{ height: 17.4, lineHeight: '17.4px', whiteSpace: 'nowrap' }}>
          <span ref={(el) => { refs.current[i] = el; }} style={{ display: 'inline-block', whiteSpace: 'nowrap' }}>{ln}</span>
        </div>
      ))}
    </div>
  );
}

export default function App() {
  return (
    <div style={{ position: 'absolute', left: 0, top: 0, width: 600, height: 752, background: '#fff', overflow: 'hidden' }}>
      <Panel left={0} top={0} width={225} height={250} make={makeP1} />
      <Panel left={195} top={0} width={200} height={250} make={makeP2} />
      <Panel left={390} top={0} width={210} height={250} make={makeP3} />
      <Panel left={0} top={250} width={225} height={240} make={makeP4} />
      <Panel left={195} top={250} width={200} height={240} make={makeP5} />
      <Panel left={390} top={250} width={210} height={240} make={makeP6} />
      <Caption />
    </div>
  );
}
